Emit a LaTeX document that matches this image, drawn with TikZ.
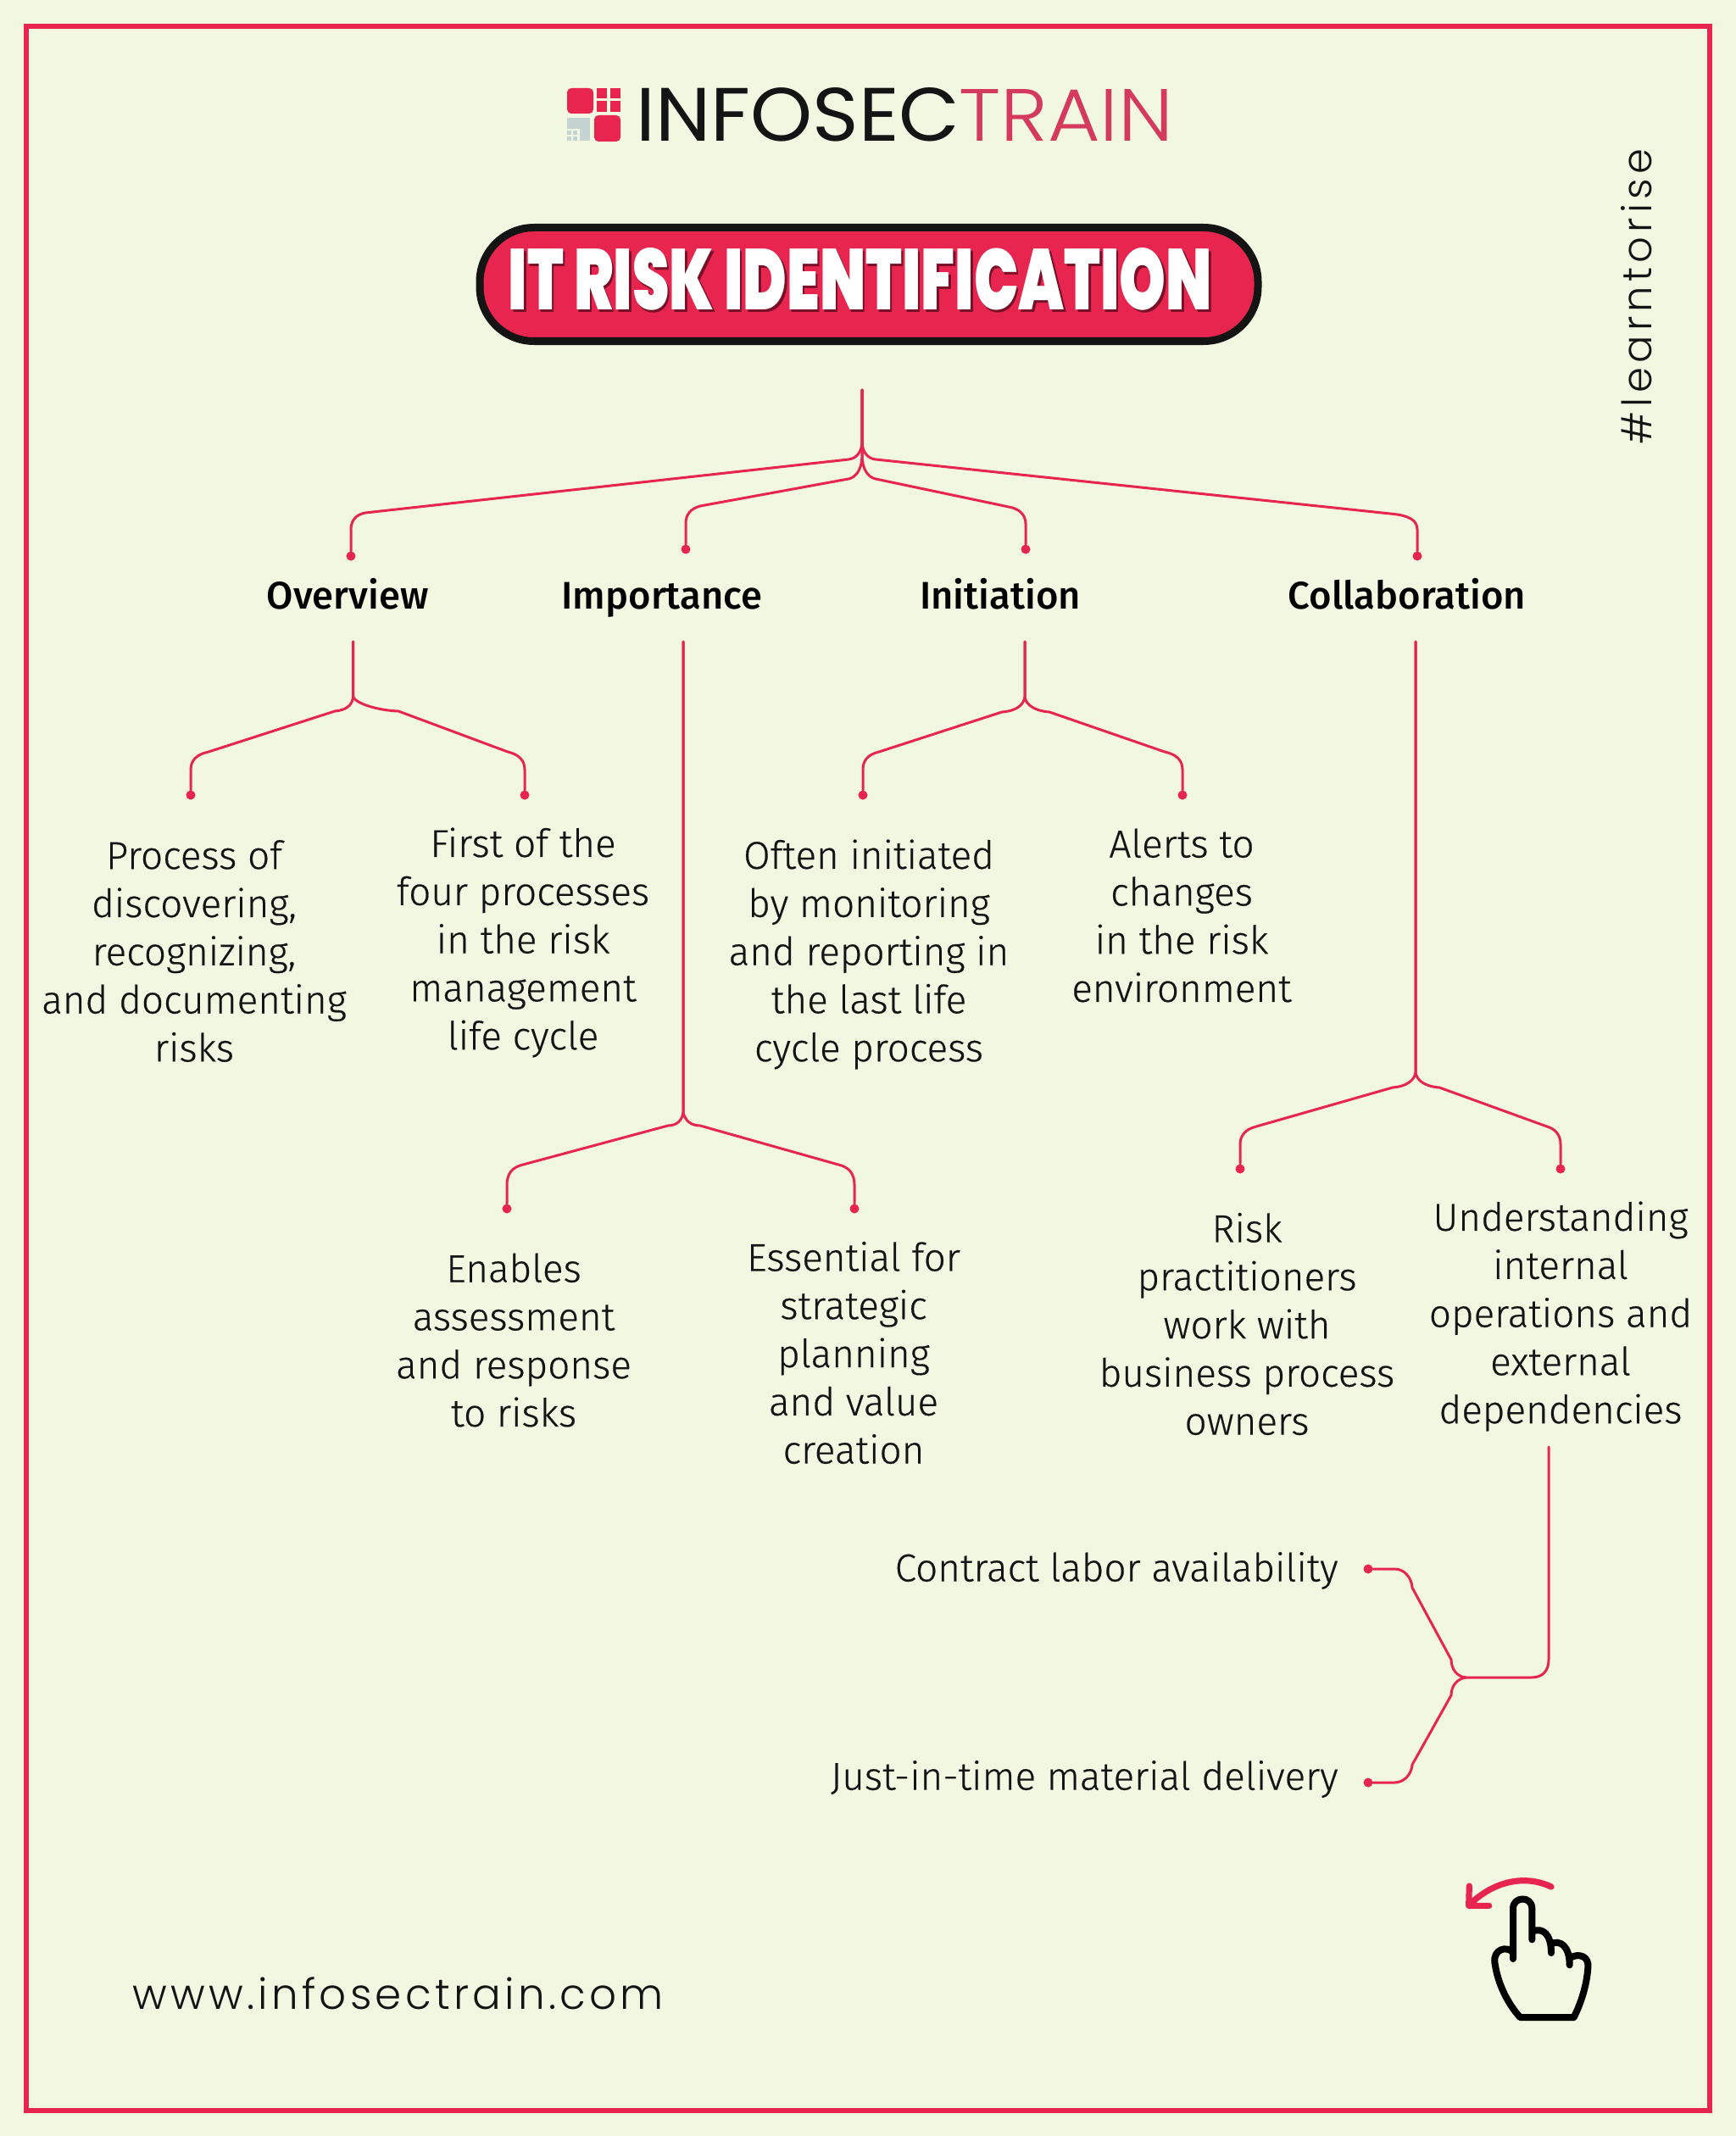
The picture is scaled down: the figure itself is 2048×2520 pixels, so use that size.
\documentclass[tikz,border=0pt]{standalone}
\usepackage{fontspec}
\setmainfont{Fira Sans}
\newfontfamily\bodyf[FakeBold=0.4]{Fira Sans Light}
\newfontfamily\headf{Fira Sans Medium}
\newfontfamily\popf{Poppins}
\newfontfamily\poplight{Poppins Light}
\newfontfamily\titlef{Poppins Black}
\usetikzlibrary{calc}
\definecolor{bgc}{HTML}{F2F7E2}
\definecolor{redc}{HTML}{E8254F}
\definecolor{trainc}{HTML}{D4395E}
\definecolor{inkc}{HTML}{141414}
\definecolor{logogray}{HTML}{C5D3D3}
\definecolor{shadowc}{HTML}{7A1028}
\tikzset{
  link/.style={draw=redc,line width=1.5pt,line cap=round,line join=round},
  pin/.style={circle,fill=redc,inner sep=0pt,minimum size=5.5pt},
  body/.style={font=\bodyf\fontsize{22.9}{28.4}\selectfont,text=inkc,align=center,inner sep=0pt},
  bodyr/.style={font=\bodyf\fontsize{22.9}{28.4}\selectfont,text=inkc,anchor=east,inner sep=0pt},
  head/.style={font=\headf\fontsize{22.7}{27}\selectfont,text=black,inner sep=0pt,anchor=base},
}
\begin{document}
\begin{tikzpicture}[x=0.5pt,y=-0.5pt]
\useasboundingbox (0,0) rectangle (2048,2520);
\fill[bgc] (0,0) rectangle (2048,2520);
\draw[redc,line width=3pt] (31,31) rectangle (2017,2490);
% logo
\fill[redc,rounded corners=2.5pt] (669,104) rectangle (700,134);
\fill[redc,rounded corners=2.5pt] (701,136) rectangle (732,167);
\fill[logogray] (669,139) rectangle (696,166);
\foreach \x/\y/\w/\h in {704/104/12/12,720/104/12/12,704/119/12/13,720/119/12/13}
  \fill[redc] (\x,\y) rectangle ++(\w,\h);
\fill[bgc] (669,152) rectangle (684,167);
\foreach \x/\y in {669/154,676/154,669/161,676/161}
  \fill[logogray] (\x,\y) rectangle ++(5,5);
\node[anchor=west,inner sep=0pt,text=inkc] (logoA) at (750,135.5)
  {\resizebox{191pt}{31.5pt}{\popf INFOSEC}};
\node[anchor=west,inner sep=0pt,text=trainc] (logoB) at (1131,135.5)
  {\resizebox{126.5pt}{30.5pt}{\poplight TRAIN}};
% title
\node[draw=inkc,fill=redc,line width=4.5pt,rounded corners=32pt,minimum width=459pt,minimum height=67pt,inner sep=0pt] (title) at (1025,335.5) {};
\node[inner sep=0pt,text=shadowc] (titleS) at (1017.5,332.5) {\resizebox{415pt}{36.5pt}{\titlef IT RISK IDENTIFICATION}};
\node[inner sep=0pt,text=white] (titleT) at (1015,329.5) {\resizebox{415pt}{36.5pt}{\titlef IT RISK IDENTIFICATION}};
% headings
\node[head] (overview) at (410,718.5) {Overview};
\node[head] (importance) at (781,718.5) {Importance};
\node[head] (initiation) at (1180,718.5) {Initiation};
\node[head] (collab) at (1660,718.5) {Collaboration};
% texts
\node[body] (t1) at (229,1122) {Process of\\discovering,\\recognizing,\\and documenting\\risks};
\node[body] (t2) at (617,1112) {First of the\\four processes\\in the risk\\management\\life cycle};
\node[body] (t3) at (1025,1126) {Often initiated\\by monitoring\\and reporting in\\the last life\\cycle process};
\node[body] (t4) at (1394,1080) {Alerts to\\changes\\in the risk\\environment};
\node[body] (t5) at (606,1581) {Enables\\assessment\\and response\\to risks};
\node[body] (t6) at (1007,1596) {Essential for\\strategic\\planning\\and value\\creation};
\node[body] (t7) at (1471,1562) {Risk\\practitioners\\work with\\business process\\owners};
\node[body] (t8) at (1841,1553) {Understanding\\internal\\operations and\\external\\dependencies};
\node[bodyr] (t9) at (1579,1853) {Contract labor availability};
\node[bodyr] (t10) at (1579,2099) {Just-in-time material delivery};
\node[inner sep=0pt,text=inkc,font=\poplight\fontsize{25}{30}\selectfont,anchor=west] (web) at (156,2352) {\addfontfeatures{LetterSpace=8.5}www.infosectrain.com};
\node[inner sep=0pt,text=inkc,font=\poplight\fontsize{24}{30}\selectfont,rotate=90] (tag) at (1931,350) {\addfontfeatures{LetterSpace=11}\#learntorise};
% stems and pins
\coordinate (root) at (1017,460);
\coordinate (ovS) at (416.5,757);
\coordinate (imS) at (806,757);
\coordinate (inS) at (1209,757);
\coordinate (coS) at (1670,757);
\coordinate (unS) at (1827,1707);
\node[pin] (p1) at (414,656) {};
\node[pin] (p2) at (809,648) {};
\node[pin] (p3) at (1210,648) {};
\node[pin] (p4) at (1672,656) {};
\node[pin] (a1) at (225,938) {};
\node[pin] (a2) at (619,938) {};
\node[pin] (b1) at (598,1426) {};
\node[pin] (b2) at (1008,1426) {};
\node[pin] (c1) at (1018,938) {};
\node[pin] (c2) at (1395,938) {};
\node[pin] (d1) at (1463,1379) {};
\node[pin] (d2) at (1841,1379) {};
\node[pin] (e1) at (1614,1851) {};
\node[pin] (e2) at (1614,2103) {};
% top tree
\draw[link] (root) -- (1017,523) .. controls (1016,534) and (1010,541) .. (1001,542) -- (431,605) .. controls (420,607) and (414,614) .. (414,625) -- (p1);
\draw[link] (root) -- (1017,523) .. controls (1018,534) and (1024,541) .. (1033,542) -- (1640,606) .. controls (1663,608) and (1672,614) .. (1672,625) -- (p4);
\draw[link] (root) -- (1017,540) .. controls (1016,554) and (1010,563) .. (1001,565) -- (826,597) .. controls (815,600) and (809,607) .. (809,617) -- (p2);
\draw[link] (root) -- (1017,540) .. controls (1018,554) and (1024,563) .. (1033,565) -- (1190,598) .. controls (1202,600) and (1210,607) .. (1210,618) -- (p3);
% overview
\draw[link] (ovS) -- (416.5,822) .. controls (416,832) and (408,838) .. (395,839) -- (246,887) .. controls (232,890) and (225,897) .. (225,908) -- (a1);
\draw[link] (ovS) -- (416.5,822) .. controls (420,830) and (445,838) .. (470,839) -- (599,887) .. controls (612,890) and (619,897) .. (619,908) -- (a2);
% importance
\draw[link] (imS) -- (806,1312) .. controls (805,1322) and (798,1328) .. (788,1328) -- (617,1374) .. controls (604,1377) and (598,1385) .. (598,1398) -- (b1);
\draw[link] (imS) -- (806,1312) .. controls (808,1322) and (815,1328) .. (826,1328) -- (989,1374) .. controls (1002,1377) and (1008,1385) .. (1008,1398) -- (b2);
% initiation
\draw[link] (inS) -- (1209,822) .. controls (1208,832) and (1198,839) .. (1182,840) -- (1037,887) .. controls (1024,890) and (1018,897) .. (1018,908) -- (c1);
\draw[link] (inS) -- (1209,822) .. controls (1210,832) and (1222,839) .. (1238,840) -- (1374,887) .. controls (1388,890) and (1395,897) .. (1395,908) -- (c2);
% collaboration
\draw[link] (coS) -- (1670,1265) .. controls (1669,1275) and (1658,1282) .. (1643,1283) -- (1482,1329) .. controls (1470,1332) and (1463,1339) .. (1463,1350) -- (d1);
\draw[link] (coS) -- (1670,1265) .. controls (1671,1275) and (1682,1282) .. (1698,1283) -- (1825,1329) .. controls (1835,1332) and (1841,1339) .. (1841,1350) -- (d2);
% bottom
\draw[link] (unS) -- (1827,1958) .. controls (1827,1971) and (1820,1979) .. (1807,1979) -- (1730,1979) .. controls (1720,1979) and (1712,1970) .. (1712,1958) -- (1666,1873) .. controls (1665,1860) and (1656,1851) .. (1645,1851) -- (e1);
\draw[link] (1730,1979) .. controls (1720,1980) and (1712,1988) .. (1712,2000) -- (1666,2082) .. controls (1665,2094) and (1656,2103) .. (1645,2103) -- (e2);
% hand icon
\begin{scope}[shift={(1650,2180)},x=0.16667pt,y=-0.16667pt]
\draw[black,line width=4pt,line cap=round,line join=round]
  (405,393) -- (405,215) .. controls (405,170) and (472,170) .. (472,215) -- (472,325)
  (472,296) .. controls (510,280) and (540,305) .. (540,372)
  (540,340) .. controls (570,325) and (605,345) .. (605,415)
  (605,390) .. controls (640,370) and (675,385) .. (670,425)
  .. controls (665,490) and (645,550) .. (620,600) -- (430,600)
  .. controls (385,550) and (350,480) .. (340,405)
  .. controls (335,360) and (380,345) .. (405,370);
\draw[redc,line width=3.6pt,line cap=round,line join=round]
  (540,138) .. controls (450,95) and (340,115) .. (252,200)
  (250,135) -- (248,205) -- (320,205);
\end{scope}
\end{tikzpicture}
\end{document}
